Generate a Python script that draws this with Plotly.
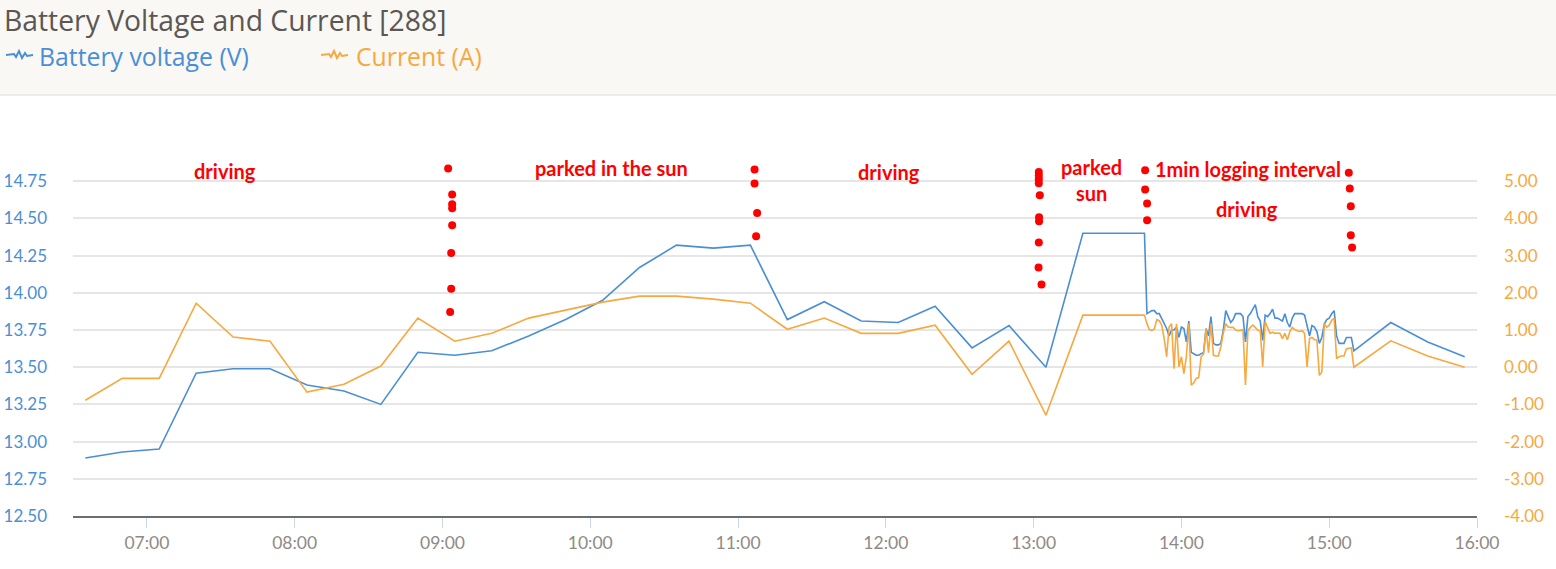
import plotly.graph_objects as go
import pandas as pd

DAY = "2021-06-01 "

# ---------------- data ----------------
times_15min = ["06:35", "06:50", "07:05", "07:20", "07:35", "07:50", "08:05", "08:20",
               "08:35", "08:50", "09:05", "09:20", "09:35", "09:50", "10:05", "10:20",
               "10:35", "10:50", "11:05", "11:20", "11:35", "11:50", "12:05", "12:20",
               "12:35", "12:50", "13:05", "13:20", "13:35", "13:45"]
volt_15min = [12.89, 12.93, 12.95, 13.46, 13.49, 13.49, 13.38, 13.34,
              13.25, 13.60, 13.58, 13.61, 13.71, 13.82, 13.95, 14.17,
              14.32, 14.30, 14.32, 13.82, 13.94, 13.81, 13.80, 13.91,
              13.63, 13.78, 13.50, 14.40, 14.40, 14.40]
curr_15min = [-0.89, -0.30, -0.30, 1.72, 0.81, 0.70, -0.67, -0.46,
              0.03, 1.32, 0.70, 0.91, 1.32, 1.53, 1.75, 1.91,
              1.91, 1.83, 1.72, 1.02, 1.32, 0.91, 0.91, 1.13,
              -0.19, 0.70, -1.29, 1.40, 1.40, 1.40]

# 1-minute logging, 13:46 .. 15:09
start_1min = "13:46"
volt_1min = [13.86, 13.87, 13.88, 13.88, 13.86, 13.86, 13.83, 13.80, 13.76, 13.71,
             13.75, 13.75, 13.77, 13.70, 13.77, 13.76, 13.67, 13.81, 13.60, 13.59,
             13.58, 13.58, 13.59, 13.60, 13.76, 13.71, 13.84, 13.66, 13.65, 13.65,
             13.66, 13.75, 13.88, 13.84, 13.80, 13.82, 13.86, 13.86, 13.86, 13.84,
             13.67, 13.84, 13.86, 13.89, 13.92, 13.84, 13.81, 13.68, 13.85, 13.84,
             13.86, 13.89, 13.83, 13.83, 13.82, 13.81, 13.86, 13.80, 13.77, 13.83,
             13.86, 13.86, 13.86, 13.86, 13.85, 13.78, 13.71, 13.78, 13.77, 13.74,
             13.66, 13.70, 13.79, 13.82, 13.83, 13.86, 13.88, 13.71, 13.66, 13.66,
             13.66, 13.70, 13.70, 13.70]
curr_1min = [1.17, 1.01, 0.99, 1.03, 1.28, 1.25, 1.13, 0.77, 0.28, 1.08,
             1.17, -0.04, 1.17, 0.01, 0.28, -0.17, 0.28, 1.17, -0.48, -0.42,
             -0.30, -0.28, 0.28, 0.35, 1.04, 0.39, 1.17, 0.32, 0.30, 0.30,
             0.55, 0.92, 1.17, 1.08, 1.07, 1.07, 1.00, 0.98, 0.99, 1.01,
             -0.48, 0.99, 1.07, 1.13, 1.07, 0.99, 0.98, 0.01, 1.22, 1.04,
             0.91, 0.94, 0.91, 0.92, 0.91, 0.77, 0.91, 0.74, 0.95, 1.07,
             1.01, 0.98, 0.96, 0.98, 0.91, 0.01, 0.77, 0.80, 0.74, 0.73,
             -0.22, -0.13, 1.17, 1.07, 1.13, 1.26, 1.31, 0.23, 0.28, 0.30,
             0.30, 0.50, 0.52, 0.52]

times_tail = ["15:10", "15:25", "15:40", "15:55"]
volt_tail = [13.61, 13.80, 13.67, 13.57]
curr_tail = [0.00, 0.71, 0.30, 0.00]

# hand-drawn red marker dots (time, voltage-axis value)
dot_times = ["09:02:18", "09:03:56", "09:03:56", "09:03:56", "09:03:56", "09:03:32", "09:03:32", "09:03:07",
             "11:06:42", "11:06:42", "11:07:45", "11:07:20",
             "13:02:06", "13:02:06", "13:02:06", "13:02:06", "13:02:30", "13:02:12", "13:02:12",
             "13:02:06", "13:02:00", "13:03:12",
             "13:45:16", "13:45:16", "13:46:04", "13:46:04",
             "15:07:57", "15:08:21", "15:08:46", "15:08:46", "15:09:17"]
dot_volts = [14.835, 14.661, 14.595, 14.568, 14.454, 14.268, 14.028, 13.871,
             14.829, 14.735, 14.537, 14.380,
             14.811, 14.787, 14.763, 14.737, 14.656, 14.508, 14.481,
             14.338, 14.170, 14.055,
             14.824, 14.694, 14.600, 14.488,
             14.806, 14.701, 14.582, 14.387, 14.304]

label_texts = ["driving", "parked in the sun", "driving", "parked", "sun",
               "1min logging interval", "driving"]
label_times = ["07:31:40", "10:08:46", "12:01:13", "13:23:37", "13:23:37", "14:26:57", "14:26:33"]
label_volts = [14.817, 14.837, 14.811, 14.844, 14.669, 14.831, 14.562]

volt_ticks = [12.50, 12.75, 13.00, 13.25, 13.50, 13.75, 14.00, 14.25, 14.50, 14.75]
volt_ticktext = ["12.50", "12.75", "13.00", "13.25", "13.50", "13.75", "14.00", "14.25", "14.50", "14.75"]
curr_ticks = [-4, -3, -2, -1, 0, 1, 2, 3, 4, 5]
curr_ticktext = ["-4.00", "-3.00", "-2.00", "-1.00", "0.00", "1.00", "2.00", "3.00", "4.00", "5.00"]
time_ticks = ["07:00", "08:00", "09:00", "10:00", "11:00", "12:00", "13:00", "14:00", "15:00", "16:00"]

title_text = "Battery Voltage and Current [288]"
legend_names = ["Battery voltage (V)", "Current (A)"]

# ---------------- build ----------------
BLUE = "#4a8fd5"
ORANGE = "#f7a83e"

def ts(hhmm):
    return pd.Timestamp(DAY + hhmm)

t_1min = list(pd.date_range(ts(start_1min), periods=len(volt_1min), freq="1min"))
x_all = [ts(t) for t in times_15min] + t_1min + [ts(t) for t in times_tail]
volt_all = volt_15min + volt_1min + volt_tail
curr_all = curr_15min + curr_1min + curr_tail

W, H = 1556, 569
ML, MR, MT, MB = 73, 79, 144, 53
PW, PH = W - ML - MR, H - MT - MB

def px(x):
    return (x - ML) / PW

def py(y):
    return (H - MB - y) / PH

fig = go.Figure()
fig.add_trace(go.Scatter(x=x_all, y=volt_all, mode="lines", name=legend_names[0],
                         line=dict(color=BLUE, width=1.6), yaxis="y"))
fig.add_trace(go.Scatter(x=x_all, y=curr_all, mode="lines", name=legend_names[1],
                         line=dict(color=ORANGE, width=1.6), yaxis="y2"))
fig.add_trace(go.Scatter(x=[ts(t) for t in dot_times], y=dot_volts, mode="markers",
                         marker=dict(color="#ff0000", size=8, line=dict(width=0)),
                         yaxis="y", showlegend=False, cliponaxis=False))

for txt, t, v in zip(label_texts, label_times, label_volts):
    fig.add_annotation(x=ts(t), y=v, xref="x", yref="y", text="<b>%s</b>" % txt,
                       showarrow=False, xanchor="center", yanchor="middle",
                       font=dict(family="Lato", size=20, color="#ff0000"))

# header panel
shapes = [
    dict(type="rect", xref="paper", yref="paper", x0=px(0), x1=px(W), y0=py(95), y1=py(0),
         fillcolor="#f9f8f5", line=dict(width=0), layer="below"),
    dict(type="line", xref="paper", yref="paper", x0=px(0), x1=px(W), y0=py(95), y1=py(95),
         line=dict(color="#dedbd6", width=1.2)),
]

def icon(x0, y0, color):
    pts = [(0, 0), (8, -1), (10, 2), (13, -4), (16, 3), (19, -2), (21, 1), (27, 0)]
    path = "M " + " L ".join("%.5f,%.5f" % (px(x0 + dx), py(y0 + dy)) for dx, dy in pts)
    return dict(type="path", xref="paper", yref="paper", path=path,
                line=dict(color=color, width=2))

shapes.append(icon(6, 55, BLUE))
shapes.append(icon(321, 55, ORANGE))

fig.add_annotation(x=px(3), y=py(0), xref="paper", yref="paper", text=title_text,
                   showarrow=False, xanchor="left", yanchor="top", borderpad=0,
                   font=dict(family="Open Sans", size=28.3, color="#5b5753"))
fig.add_annotation(x=px(37), y=py(56), xref="paper", yref="paper", text=legend_names[0],
                   showarrow=False, xanchor="left", yanchor="middle",
                   font=dict(family="Open Sans", size=24.8, color=BLUE))
fig.add_annotation(x=px(354), y=py(56), xref="paper", yref="paper", text=legend_names[1],
                   showarrow=False, xanchor="left", yanchor="middle",
                   font=dict(family="Open Sans", size=24.8, color=ORANGE))

fig.update_layout(
    width=W, height=H,
    margin=dict(l=ML, r=MR, t=MT, b=MB, pad=0, autoexpand=False),
    paper_bgcolor="white", plot_bgcolor="white",
    showlegend=False,
    shapes=shapes,
    xaxis=dict(type="date", range=[ts("06:30"), ts("16:00")],
               tickvals=[ts(t) for t in time_ticks], ticktext=time_ticks,
               showgrid=False, zeroline=False, automargin=False,
               showline=True, linecolor="#6e6e6e", linewidth=2,
               ticks="outside", ticklen=10, tickwidth=1, tickcolor="#ccd6eb",
               tickfont=dict(family="Lato", size=17.5, color="#8f8a86")),
    yaxis=dict(range=[12.5, 15.0], tickvals=volt_ticks, ticktext=volt_ticktext,
               showgrid=True, gridcolor="#e6e6e6", gridwidth=1.6, automargin=False,
               zeroline=False, showline=False, ticks="",
               ticklabelstandoff=25,
               tickfont=dict(family="Lato", size=17, color=BLUE)),
    yaxis2=dict(range=[-4, 6], tickvals=curr_ticks, ticktext=curr_ticktext,
                overlaying="y", side="right", showgrid=False, zeroline=False,
                showline=False, ticks="", ticklabelstandoff=26, automargin=False,
                tickfont=dict(family="Lato", size=17, color=ORANGE)),
)

fig.write_html("out.html")
